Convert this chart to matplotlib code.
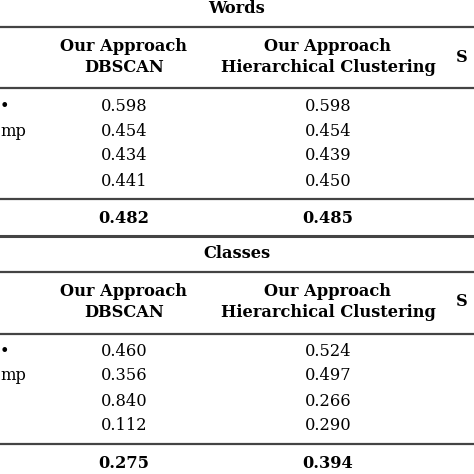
import matplotlib
matplotlib.use("Agg")
import matplotlib.pyplot as plt

blocks = ["Words", "Classes"]
col_headers = ["Our Approach\nDBSCAN", "Our Approach\nHierarchical Clustering"]
row_labels = ["•", "mp", "", ""]
words_dbscan = ["0.598", "0.454", "0.434", "0.441"]
words_hier = ["0.598", "0.454", "0.439", "0.450"]
words_avg = ["0.482", "0.485"]
classes_dbscan = ["0.460", "0.356", "0.840", "0.112"]
classes_hier = ["0.524", "0.497", "0.266", "0.290"]
classes_avg = ["0.275", "0.394"]

fig = plt.figure(figsize=(4.74, 4.74), dpi=100)
ax = fig.add_axes([0, 0, 1, 1])
ax.set_xlim(0, 474); ax.set_ylim(474, 0); ax.axis("off")
font = "DejaVu Serif"
fs = 11.7
cols_x = [124, 328]
lc = "#444"

def rows(ystart, dcol, hcol):
    for i, (lab, d, h) in enumerate(zip(row_labels, dcol, hcol)):
        y = ystart + i * 25
        ax.text(0, y, lab, ha="left", va="center", family=font, fontsize=fs)
        ax.text(cols_x[0], y, d, ha="center", va="center", family=font, fontsize=fs)
        ax.text(cols_x[1], y, h, ha="center", va="center", family=font, fontsize=fs)

def headers(y):
    for x, hh in zip(cols_x, col_headers):
        ax.text(x, y, hh, ha="center", va="center", family=font, fontsize=fs,
                fontweight="bold", linespacing=1.25)
    ax.text(456, y, "S", ha="left", va="center", family=font, fontsize=fs, fontweight="bold")

def avgs(y, avg):
    for x, a in zip(cols_x, avg):
        ax.text(x, y, a, ha="center", va="center", family=font, fontsize=fs, fontweight="bold")

# Words block
ax.text(237, 8, blocks[0], ha="center", va="center", family=font, fontsize=fs, fontweight="bold")
ax.axhline(27, color=lc, lw=1.6)
headers(57)
ax.axhline(88, color=lc, lw=1.6)
rows(106, words_dbscan, words_hier)
ax.axhline(199, color=lc, lw=1.6)
avgs(218, words_avg)
ax.axhline(236, color=lc, lw=2.2)

# Classes block
ax.text(237, 254, blocks[1], ha="center", va="center", family=font, fontsize=fs, fontweight="bold")
ax.axhline(272, color=lc, lw=1.6)
headers(302)
ax.axhline(334, color=lc, lw=1.6)
rows(351, classes_dbscan, classes_hier)
ax.axhline(444, color=lc, lw=1.6)
avgs(463, classes_avg)

fig.savefig("out.png", dpi=100)
